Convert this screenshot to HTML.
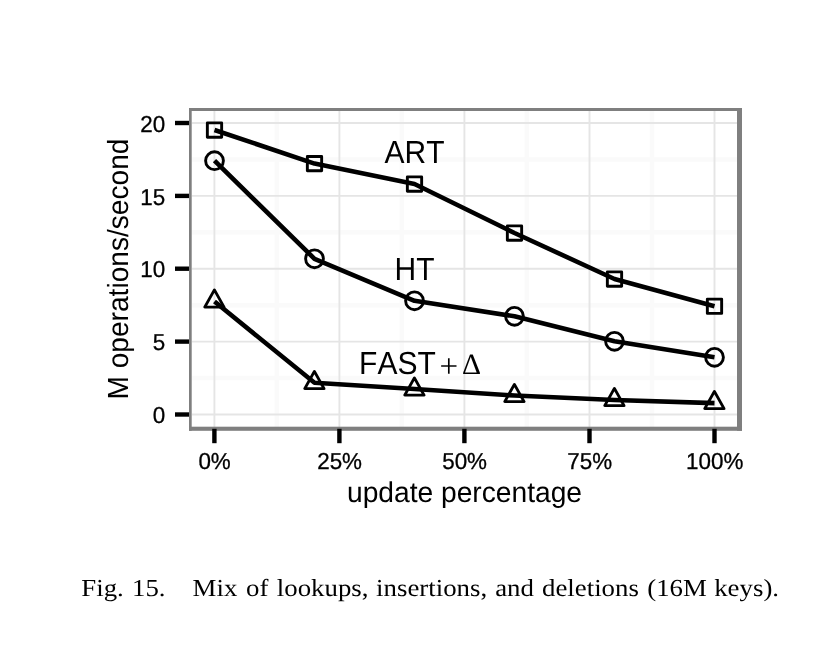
<!DOCTYPE html>
<html lang="en">
<head>
<meta charset="utf-8">
<title>Fig. 15</title>
<style>
  html, body { margin: 0; padding: 0; background: #ffffff; }
  body { width: 834px; height: 650px; overflow: hidden; }
  svg { display: block; text-rendering: geometricPrecision; }
  .sans { font-family: "Liberation Sans", Arial, Helvetica, sans-serif; fill: #000; font-kerning: none; }
  .serif { font-family: "Liberation Serif", "Times New Roman", Times, serif; fill: #000; }
  .tick { font-size: 22.4px; stroke: #000; stroke-width: 0.3px; }
  .title { font-size: 28px; }
  .lab { font-size: 30px; }
  .cap { font-size: 24.4px; }
</style>
</head>
<body>
<svg width="834" height="650" viewBox="0 0 834 650">
  <rect x="0" y="0" width="834" height="650" fill="#ffffff"/>

  <!-- minor gridlines -->
  <g stroke="#fafafa" stroke-width="4.5" fill="none">
    <line x1="192" x2="737" y1="378.1" y2="378.1"/>
    <line x1="192" x2="737" y1="305.2" y2="305.2"/>
    <line x1="192" x2="737" y1="232.3" y2="232.3"/>
    <line x1="192" x2="737" y1="159.4" y2="159.4"/>
    <line y1="111" y2="427" x1="276.8" x2="276.8"/>
    <line y1="111" y2="427" x1="401.9" x2="401.9"/>
    <line y1="111" y2="427" x1="526.9" x2="526.9"/>
    <line y1="111" y2="427" x1="652" x2="652"/>
  </g>
  <!-- major gridlines -->
  <g stroke="#e5e5e5" stroke-width="1.9" fill="none">
    <line x1="192" x2="737" y1="414.5" y2="414.5"/>
    <line x1="192" x2="737" y1="341.6" y2="341.6"/>
    <line x1="192" x2="737" y1="268.7" y2="268.7"/>
    <line x1="192" x2="737" y1="195.9" y2="195.9"/>
    <line x1="192" x2="737" y1="123" y2="123"/>
    <line y1="111" y2="427" x1="214.4" x2="214.4"/>
    <line y1="111" y2="427" x1="339.4" x2="339.4"/>
    <line y1="111" y2="427" x1="464.4" x2="464.4"/>
    <line y1="111" y2="427" x1="589.5" x2="589.5"/>
    <line y1="111" y2="427" x1="714.5" x2="714.5"/>
  </g>

  <!-- data lines -->
  <g stroke="#000" stroke-width="4.6" fill="none" stroke-linejoin="round" stroke-linecap="butt">
    <polyline points="214.5,130 314.5,163.6 414.5,184 514.5,233 614.5,279 714.5,306.2"/>
    <polyline points="214.5,160.7 314.5,258.8 414.5,300.8 514.5,316.3 614.5,341.3 714.5,357.3"/>
    <polyline points="214.5,301.5 314.5,382.8 414.5,389.0 514.5,395.5 614.5,400.0 714.5,403.1"/>
  </g>

  <!-- markers: squares (ART) -->
  <g stroke="#000" stroke-width="2.9" fill="none" stroke-linejoin="round">
    <rect x="207.35" y="122.90" width="14.3" height="14.3"/>
    <rect x="307.35" y="156.50" width="14.3" height="14.3"/>
    <rect x="407.35" y="176.90" width="14.3" height="14.3"/>
    <rect x="507.35" y="225.90" width="14.3" height="14.3"/>
    <rect x="607.35" y="271.90" width="14.3" height="14.3"/>
    <rect x="707.35" y="299.10" width="14.3" height="14.3"/>
  </g>
  <!-- markers: circles (HT) -->
  <g stroke="#000" stroke-width="2.9" fill="none">
    <circle cx="214.5" cy="160.7" r="8.9"/>
    <circle cx="314.5" cy="258.8" r="8.9"/>
    <circle cx="414.5" cy="300.8" r="8.9"/>
    <circle cx="514.5" cy="316.3" r="8.9"/>
    <circle cx="614.5" cy="341.3" r="8.9"/>
    <circle cx="714.5" cy="357.3" r="8.9"/>
  </g>
  <!-- markers: triangles (FAST) -->
  <g stroke="#000" stroke-width="2.9" fill="none" stroke-linejoin="round">
    <path d="M214.4 289.90 L224.05 307.10 L204.75 307.10 Z"/>
    <path d="M314.4 371.40 L324.05 388.60 L304.75 388.60 Z"/>
    <path d="M414.4 377.90 L424.05 395.10 L404.75 395.10 Z"/>
    <path d="M514.4 384.40 L524.05 401.60 L504.75 401.60 Z"/>
    <path d="M614.4 388.40 L624.05 405.60 L604.75 405.60 Z"/>
    <path d="M714.4 391.40 L724.05 408.60 L704.75 408.60 Z"/>
  </g>

  <!-- panel border -->
  <g fill="#7f7f7f">
    <rect x="189" y="108" width="553" height="3"/>
    <rect x="189" y="108" width="2.7" height="322.8"/>
    <rect x="737" y="108" width="5" height="322.8"/>
    <rect x="189" y="426.7" width="553" height="4.1"/>
  </g>

  <!-- axis ticks -->
  <g stroke="#000" stroke-width="4.4" fill="none">
    <line x1="175" x2="189" y1="123" y2="123"/>
    <line x1="175" x2="189" y1="195.9" y2="195.9"/>
    <line x1="175" x2="189" y1="268.7" y2="268.7"/>
    <line x1="175" x2="189" y1="341.6" y2="341.6"/>
    <line x1="175" x2="189" y1="414.5" y2="414.5"/>
    <line y1="428.8" y2="443.2" x1="214.4" x2="214.4"/>
    <line y1="428.8" y2="443.2" x1="339.4" x2="339.4"/>
    <line y1="428.8" y2="443.2" x1="464.4" x2="464.4"/>
    <line y1="428.8" y2="443.2" x1="589.5" x2="589.5"/>
    <line y1="428.8" y2="443.2" x1="714.5" x2="714.5"/>
  </g>

  <!-- y tick labels -->
  <g class="sans tick" text-anchor="end">
    <text transform="translate(165.2,131.65) scale(1,1.03)">20</text>
    <text transform="translate(165.2,204.55) scale(1,1.03)">15</text>
    <text transform="translate(165.2,277.35) scale(1,1.03)">10</text>
    <text transform="translate(165.2,350.25) scale(1,1.03)">5</text>
    <text transform="translate(165.2,423.15) scale(1,1.03)">0</text>
  </g>
  <!-- x tick labels -->
  <g class="sans tick" text-anchor="middle">
    <text transform="translate(214.6,469.45) scale(1,1.03)">0%</text>
    <text transform="translate(339.6,469.45) scale(1,1.03)">25%</text>
    <text transform="translate(464.6,469.45) scale(1,1.03)">50%</text>
    <text transform="translate(589.7,469.45) scale(1,1.03)">75%</text>
    <text transform="translate(714.7,469.45) scale(1,1.03)">100%</text>
  </g>

  <!-- axis titles -->
  <text class="sans title" style="font-size:28.2px" text-anchor="middle" transform="translate(464.5,501.6) scale(1,1.02)">update percentage</text>
  <text class="sans title" style="font-size:28.12px" text-anchor="middle" transform="translate(128.4,269.05) rotate(-90) scale(1,1.035)">M operations/second</text>

  <!-- series labels -->
  <text class="sans lab" text-anchor="middle" transform="translate(414.5,162.8) scale(1,1.065)">ART</text>
  <text class="sans lab" text-anchor="middle" transform="translate(414.5,279.8) scale(1,1.065)">HT</text>
  <text class="sans lab" transform="translate(359.1,373.9) scale(1,1.065)">FAST</text>
  <text class="serif" font-size="33" transform="translate(439.5,377.2)">+</text>
  <text class="serif" font-size="29.6" transform="translate(462.1,374)">Δ</text>

  <!-- caption -->
  <g class="serif cap">
    <text transform="translate(81.3,596.3) scale(1.1,1)">Fig.</text>
    <text transform="translate(132,596.3) scale(1.1,1)">15.</text>
    <text transform="translate(192.6,596.3) scale(1.1,1)">Mix</text>
    <text transform="translate(246,596.3) scale(1.1,1)">of</text>
    <text transform="translate(276.8,596.3) scale(1.1,1)">lookups,</text>
    <text transform="translate(376.1,596.3) scale(1.1,1)">insertions,</text>
    <text transform="translate(495.2,596.3) scale(1.1,1)">and</text>
    <text transform="translate(542,596.3) scale(1.1,1)">deletions</text>
    <text transform="translate(647.2,596.3) scale(1.1,1)">(16M</text>
    <text transform="translate(714.2,596.3) scale(1.1,1)">keys).</text>
  </g>
</svg>
</body>
</html>
